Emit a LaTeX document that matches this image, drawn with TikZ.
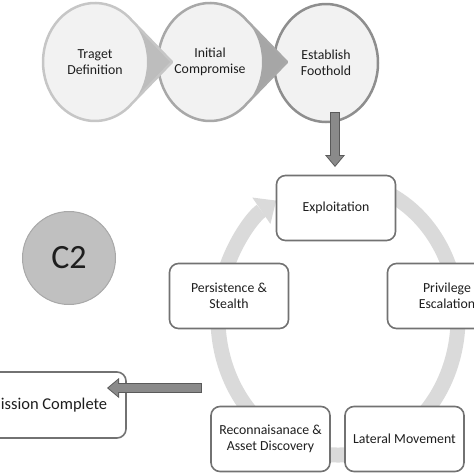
\documentclass[tikz,border=0pt]{standalone}
\usepackage{fontspec}
\setmainfont{Carlito}
\usetikzlibrary{arrows.meta,shapes.geometric}

\definecolor{stagefill}{HTML}{F2F2F2}
\definecolor{edgeone}{HTML}{C6C6C6}
\definecolor{edgetwo}{HTML}{A8A8A8}
\definecolor{edgethree}{HTML}{8E8E8E}
\definecolor{wedgeone}{HTML}{BDBDBD}
\definecolor{wedgetwo}{HTML}{A6A6A6}
\definecolor{boxedge}{HTML}{727272}
\definecolor{ringgrey}{HTML}{DADADA}
\definecolor{arrowfill}{HTML}{8A8A8A}
\definecolor{arrowedge}{HTML}{5A5A5A}
\definecolor{ctwofill}{HTML}{C0C0C0}
\definecolor{ctwoedge}{HTML}{A8A8A8}
\definecolor{txt}{HTML}{1E1E1E}

\tikzset{
  phasefont/.style={align=center, font=\fontsize{13.8}{16.5}\selectfont},
  stageline/.style={line width=2.5pt, line join=round},
  stage/.style={ellipse, phasefont, minimum width=104pt, minimum height=118pt, inner sep=0pt, fill=stagefill},
  phase/.style={draw=boxedge, line width=1.6pt, rounded corners=9pt, fill=white, minimum width=119pt, minimum height=65pt, phasefont},
  ring/.style={draw=ringgrey, line width=15pt, -{Triangle[length=18pt, width=32pt, line width=0pt]}},
  fatouter/.style={draw=arrowedge, line width=10pt, -{Triangle[length=12pt, width=20pt, line width=0pt]}},
  fatinner/.style={draw=arrowfill, line width=8pt, shorten <=1pt, shorten >=1.5pt, -{Triangle[length=9.5pt, width=16pt, line width=0pt]}},
  ctwo/.style={circle, draw=ctwoedge, line width=1pt, fill=ctwofill, minimum size=93pt, inner sep=0pt, font=\fontsize{34}{34}\selectfont},
}

% wedge and outline of a stage bubble: #1 node, #2 edge colour, #3 wedge colour
\newcommand{\stagewedge}[3]{%
  \fill[#3] (#1.center) ++(77,0) -- ++(-39.6,41) arc[start angle=44, end angle=-44, x radius=52, y radius=59] -- cycle;
  \draw[#2, stageline] (#1.center) ++(77,0) -- ++(-39.6,41) arc[start angle=44, end angle=316, x radius=52, y radius=59] -- cycle;
}

% grey block arrow with a dark rim
\newcommand{\fatarrow}[2]{%
  \draw[fatouter] (#1) -- (#2);
  \draw[fatinner] (#1) -- (#2);
}

\begin{document}
\begin{tikzpicture}[x=1pt, y=1pt, text=txt]
  \clip (0,0) rectangle (474,-474);

  % Cycle ring
  \draw[ring] (338,-318) ++(70:120 and 137) arc[start angle=70, end angle=-239, x radius=120, y radius=137];

  % Cycle phases
  \node[phase] (exploit) at (336,-208) {Exploitation};
  \node[phase] (privilege) at (447,-296) {Privilege\\Escalation};
  \node[phase] (lateral) at (404.5,-439) {Lateral Movement};
  \node[phase] (recon) at (270.5,-439) {Reconnaisanace \&\\Asset Discovery};
  \node[phase] (persist) at (229,-296) {Persistence \&\\Stealth};

  % Mission complete
  \node[phase, minimum width=158pt, minimum height=66pt, font=\fontsize{16.5}{19}\selectfont] (mission) at (47,-405) {Mission Complete};

  % Attack stages
  \node[stage, draw=edgethree, stageline] (foothold) at (326,-63) {Establish\\Foothold};
  \node[stage] (compromise) at (210,-62) {Initial\\Compromise};
  \stagewedge{compromise}{edgetwo}{wedgetwo}
  \node[stage] (target) at (95,-62) {Traget\\Definition};
  \stagewedge{target}{edgeone}{wedgeone}

  % Hand-over arrows
  \coordinate (dtail) at (335,-112);
  \coordinate (dtip) at (335,-167);
  \fatarrow{dtail}{dtip}
  \coordinate (ltail) at (202,-388);
  \coordinate (ltip) at (107,-388);
  \fatarrow{ltail}{ltip}

  % Command and control
  \node[ctwo] (ctwo) at (69,-258) {C2};
\end{tikzpicture}
\end{document}
